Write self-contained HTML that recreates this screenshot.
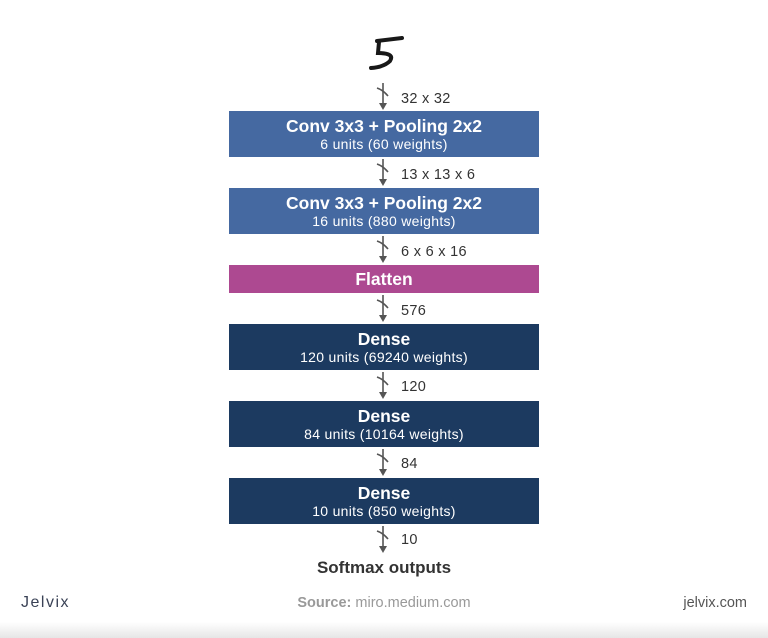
<!DOCTYPE html>
<html><head><meta charset="utf-8"><style>
*{margin:0;padding:0;box-sizing:border-box}
body{width:768px;height:638px;position:relative;background:#fff;font-family:"Liberation Sans",sans-serif;overflow:hidden}
.box{position:absolute;left:229px;width:310px;color:#fff;text-align:center;font-weight:bold}
.t{font-size:17.5px;line-height:19px}
.s{font-size:14px;line-height:16px;font-weight:normal;letter-spacing:0.3px}
.lbl{position:absolute;left:401px;font-size:14.5px;color:#333;line-height:15px;letter-spacing:0.3px}
.conv{background:#4569a1}
.dense{background:#1c3a60}
</style></head><body>
<div style="position:absolute;left:0;right:0;bottom:0;height:16px;background:linear-gradient(#fff,#e6e6e6)"></div>
<svg width="768" height="638" style="position:absolute;left:0;top:0">
<g stroke="#000" stroke-width="4" fill="none" stroke-linecap="round" opacity="0.9">
<path d="M377 41 L402 38"/>
<path d="M379 42 L378 53 Q395 53 390 61 Q384 67 371 68"/>
</g>
<g stroke="#555" stroke-width="1.6" fill="#555">
<g id="a"><line x1="383" y1="83" x2="383" y2="104"/><path d="M379 103 L387 103 L383 110 Z" stroke="none"/><path d="M377 88 Q383 90 388 96" fill="none"/></g>
<use href="#a" y="76"/><use href="#a" y="153"/><use href="#a" y="212"/><use href="#a" y="289"/><use href="#a" y="366"/><use href="#a" y="443"/>
</g>
</svg>
<div class="lbl" style="top:92px">32 x 32</div>
<div class="box conv" style="top:111px;height:46px;padding-top:6px"><div class="t">Conv 3x3 + Pooling 2x2</div><div class="s">6 units (60 weights)</div></div>
<div class="lbl" style="top:168px">13 x 13 x 6</div>
<div class="box conv" style="top:188px;height:46px;padding-top:6px"><div class="t">Conv 3x3 + Pooling 2x2</div><div class="s">16 units (880 weights)</div></div>
<div class="lbl" style="top:245px">6 x 6 x 16</div>
<div class="box" style="top:265px;height:28px;padding-top:5px;background:#ad4991"><div class="t">Flatten</div></div>
<div class="lbl" style="top:304px">576</div>
<div class="box dense" style="top:324px;height:46px;padding-top:6px"><div class="t">Dense</div><div class="s">120 units (69240 weights)</div></div>
<div class="lbl" style="top:380px">120</div>
<div class="box dense" style="top:401px;height:46px;padding-top:6px"><div class="t">Dense</div><div class="s">84 units (10164 weights)</div></div>
<div class="lbl" style="top:457px">84</div>
<div class="box dense" style="top:478px;height:46px;padding-top:6px"><div class="t">Dense</div><div class="s">10 units (850 weights)</div></div>
<div class="lbl" style="top:533px">10</div>
<div style="position:absolute;left:0;width:768px;top:558px;text-align:center;font-size:17px;font-weight:bold;color:#333">Softmax outputs</div>
<div style="position:absolute;left:21px;top:594px;font-size:16px;color:#3a4256;letter-spacing:1.5px">Jelvix</div>
<div style="position:absolute;left:0;width:768px;top:595px;text-align:center;font-size:14.5px;color:#999"><b>Source:</b> miro.medium.com</div>
<div style="position:absolute;right:21px;top:595px;font-size:14.5px;color:#555">jelvix.com</div>
</body></html>
